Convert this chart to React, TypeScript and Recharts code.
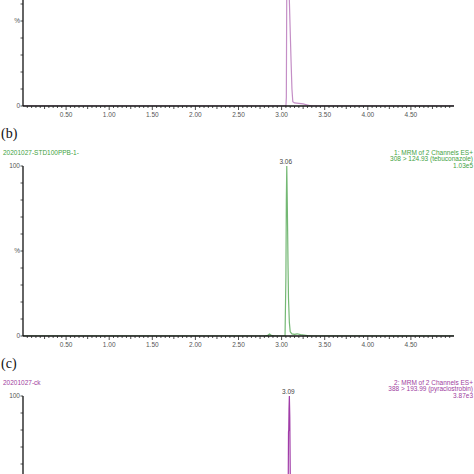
import React from 'react';
import { LineChart, Line, XAxis, YAxis } from 'recharts';

// ---- axis ticks ----
const xLabelTicks = [0.5, 1.0, 1.5, 2.0, 2.5, 3.0, 3.5, 4.0, 4.5];
const xMinorTicks = Array.from({ length: 99 }, (_, i) => +((i + 1) * 0.05).toFixed(2));
const yTicks = [0, 10, 20, 30, 40, 50, 60, 70, 80, 90, 100];

// ---- panel (a): pyraclostrobin standard (top part cut off) ----
const timesA = [0, 3.05, 3.055, 3.06, 3.07, 3.08, 3.09, 3.1, 3.11, 3.12, 3.13, 3.15, 3.2, 3.25, 3.3, 3.35, 5.0];
const intensA = [0, 0, 5, 70, 96, 100, 62, 44, 26, 10, 2.5, 1.8, 1.5, 1.2, 0.6, 0, 0];

// ---- panel (b): tebuconazole standard ----
const timesB = [0, 2.8, 2.84, 2.86, 2.88, 2.92, 3.04, 3.05, 3.055, 3.06, 3.065, 3.07, 3.075, 3.08, 3.09, 3.1, 3.12, 3.15, 3.18, 3.22, 3.26, 3.3, 3.35, 5.0];
const intensB = [0, 0, 0.4, 1.2, 0.4, 0, 0, 35, 80, 100, 82, 62, 40, 22, 8, 2.5, 1.2, 1.0, 1.3, 0.8, 0.6, 0.3, 0, 0];

// ---- panel (c): blank (ck), pyraclostrobin channel ----
const timesC = [0, 3.06, 3.07, 3.075, 3.08, 3.083, 3.086, 3.09, 3.095, 3.1, 3.11, 3.12, 3.15, 3.25, 5.0];
const intensC = [0, 0, 8, 30, 79, 80, 92, 100, 88, 55, 18, 5, 1, 0, 0];

const FONT = '"Liberation Sans", Arial, sans-serif';
const PANEL_H = 230;

const toData = (t: number[], v: number[]) => t.map((x, i) => ({ t: x, v: v[i] }));

const XTick = (props: any) => {
  const { x, y, payload } = props;
  const c = Math.round(payload.value * 100);
  const isLabel = xLabelTicks.some((l) => Math.round(l * 100) === c);
  const isMid = c % 25 === 0;
  const len = isLabel ? 4 : isMid ? 3 : 2;
  return (
    <g>
      <line x1={x} x2={x} y1={y} y2={y + len} stroke="#222" strokeWidth={0.8} />
      {isLabel && (
        <text x={x} y={y + 10.5} textAnchor="middle" fontSize={6.5} fill="#555" fontFamily={FONT}>
          {payload.value.toFixed(2)}
        </text>
      )}
    </g>
  );
};

const YTick = (props: any) => {
  const { x, y, payload } = props;
  const v = payload.value;
  const label = v === 0 ? '0' : v === 100 ? '100' : v === 50 ? '%' : '';
  return (
    <g>
      <line x1={x - 2.5} x2={x} y1={y} y2={y} stroke="#222" strokeWidth={0.8} />
      {label && (
        <text x={x - 3} y={y + 2.3} textAnchor="end" fontSize={6.5} fill="#555" fontFamily={FONT}>
          {label}
        </text>
      )}
    </g>
  );
};

type PanelProps = {
  top: number;
  color: string;
  textColor: string;
  times: number[];
  intens: number[];
  letter?: string;
  sample?: string;
  channel?: string[];
  peakText?: string;
};

const Panel = ({ top, color, textColor, times, intens, letter, sample, channel, peakText }: PanelProps) => {
  const data = toData(times, intens);
  const peakIdx = intens.indexOf(Math.max(...intens));
  return (
    <div style={{ position: 'absolute', left: 0, top, width: 474, height: PANEL_H }}>
      <LineChart width={474} height={PANEL_H} data={data} margin={{ top: 46, right: 20, bottom: 0, left: 0 }}>
        <XAxis
          dataKey="t"
          type="number"
          domain={[0, 5]}
          ticks={xMinorTicks}
          interval={0}
          tick={<XTick />}
          tickSize={0}
          tickMargin={0}
          tickLine={false}
          height={14}
          axisLine={{ stroke: '#111', strokeWidth: 1.6 }}
          allowDataOverflow
        />
        <YAxis
          type="number"
          domain={[0, 100]}
          ticks={yTicks}
          interval={0}
          tick={<YTick />}
          tickSize={0}
          tickMargin={0}
          tickLine={false}
          width={23}
          axisLine={{ stroke: '#111', strokeWidth: 1.3 }}
          allowDataOverflow
        />
        <Line
          dataKey="v"
          type="linear"
          stroke={color}
          strokeWidth={1.2}
          dot={false}
          isAnimationActive={false}
          label={(p: any) =>
            peakText && p.index === peakIdx ? (
              <text key="pk" x={p.x - 1} y={p.y - 2} textAnchor="middle" fontSize={6.5} fill="#444" fontFamily={FONT}>
                {peakText}
              </text>
            ) : (
              <g key={'n' + p.index} />
            )
          }
        />
      </LineChart>
      <svg width={474} height={PANEL_H} style={{ position: 'absolute', left: 0, top: 0, pointerEvents: 'none' }}>
        {letter && (
          <text x={1} y={18} fontSize={14} fill="#111" fontFamily='"Liberation Serif", "Times New Roman", serif'>
            {letter}
          </text>
        )}
        {sample && (
          <text x={3} y={34.5} fontSize={6.5} fill={textColor} fontFamily={FONT}>
            {sample}
          </text>
        )}
        {channel &&
          channel.map((s, i) => (
            <text key={i} x={473} y={34.5 + i * 6.5} textAnchor="end" fontSize={6.5} fill={textColor} fontFamily={FONT}>
              {s}
            </text>
          ))}
      </svg>
    </div>
  );
};

export default function App() {
  return (
    <div style={{ position: 'absolute', left: 0, top: 0, width: 474, height: 474, overflow: 'hidden', background: '#fff' }}>
      <Panel top={120 - PANEL_H} color="#c48ec6" textColor="#a040a0" times={timesA} intens={intensA} />
      <Panel
        top={120}
        color="#74b874"
        textColor="#3f9f3f"
        times={timesB}
        intens={intensB}
        letter="(b)"
        sample="20201027-STD100PPB-1-"
        channel={['1: MRM of 2 Channels ES+', '308 > 124.93 (tebuconazole)', '1.03e5']}
        peakText="3.06"
      />
      <Panel
        top={120 + PANEL_H}
        color="#a03ca8"
        textColor="#a040a0"
        times={timesC}
        intens={intensC}
        letter="(c)"
        sample="20201027-ck"
        channel={['2: MRM of 2 Channels ES+', '388 > 193.99 (pyraclostrobin)', '3.87e3']}
        peakText="3.09"
      />
    </div>
  );
}
